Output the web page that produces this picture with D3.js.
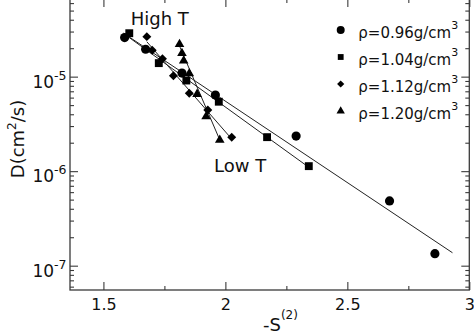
<!DOCTYPE html>
<html><head><meta charset="utf-8">
<script src="https://cdn.jsdelivr.net/npm/d3@7"></script>
<style>
body{margin:0;background:#fff}
svg{display:block}
text{font-family:"DejaVu Sans",sans-serif;fill:#111}
</style>
</head><body><svg id="c" width="474" height="336"></svg>
<script>
// ---- data ----
const xCircle   = [1.587, 1.673, 1.822, 1.959, 2.290, 2.673, 2.859];
const dCircle   = [2.59e-5, 1.95e-5, 1.09e-5, 6.4e-6, 2.35e-6, 4.84e-7, 1.34e-7];
const xSquare   = [1.606, 1.727, 1.840, 1.973, 2.171, 2.342];
const dSquare   = [2.88e-5, 1.39e-5, 9.1e-6, 5.43e-6, 2.29e-6, 1.13e-6];
const xDiamond  = [1.678, 1.700, 1.742, 1.787, 1.852, 1.928, 2.026];
const dDiamond  = [2.65e-5, 1.90e-5, 1.55e-5, 1.02e-5, 6.67e-6, 4.44e-6, 2.28e-6];
const xTriangle = [1.812, 1.822, 1.829, 1.852, 1.884, 1.921, 1.977];
const dTriangle = [2.20e-5, 1.77e-5, 1.47e-5, 1.08e-5, 6.53e-6, 3.78e-6, 2.14e-6];

// fit lines (end points)
const fitCircleX   = [1.582, 2.931];
const fitCircleD   = [2.89e-5, 1.37e-7];
const fitSquareX   = [1.605, 2.342];
const fitSquareD   = [2.60e-5, 1.10e-6];
const fitDiamondX  = [1.678, 2.026];
const fitDiamondD  = [2.34e-5, 2.19e-6];
const fitTriangleX = [1.812, 1.977];
const fitTriangleD = [2.11e-5, 2.14e-6];

const legendLabels = ["\u03c1=0.96g/cm", "\u03c1=1.04g/cm", "\u03c1=1.12g/cm", "\u03c1=1.20g/cm"];
const legendSup = "3";

const xMajorTicks = [1.5, 2, 2.5, 3];
const xTickLabels = ["1.5", "2", "2.5", "3"];
const xMinorTicks = [1.75, 2.25, 2.75];
const yMajorTicks = [1e-7, 1e-6, 1e-5];
const yTickExps   = ["-7", "-6", "-5"];
const yMinorTicks = [6e-8, 7e-8, 8e-8, 9e-8,
  2e-7, 3e-7, 4e-7, 5e-7, 6e-7, 7e-7, 8e-7, 9e-7,
  2e-6, 3e-6, 4e-6, 5e-6, 6e-6, 7e-6, 8e-6, 9e-6,
  2e-5, 3e-5, 4e-5, 5e-5, 6e-5];
const xDomain = [1.363, 3.0];
const yDomain = [5.53e-8, 6.63e-5];

// ---- layout ----
const L = 70, R = 469.3, T = -1, B = 290;
const svg = d3.select("#c");
const x = d3.scaleLinear().domain(xDomain).range([L, R]);
const y = d3.scaleLog().domain(yDomain).range([B, T]);
const axisColor = "#3a3a3a";

function styleAxis(g){
  g.select(".domain").remove();
  g.selectAll(".tick line").attr("stroke", axisColor).attr("stroke-width", 1.1);
}

// bottom major
const gB = svg.append("g").attr("transform", `translate(0,${B})`)
  .call(d3.axisBottom(x).tickValues(xMajorTicks).tickSize(-8).tickSizeOuter(0).tickPadding(9)
    .tickFormat((d,i) => xTickLabels[i]));
styleAxis(gB);
gB.selectAll("text").attr("font-size", 16).attr("font-family", '"DejaVu Sans",sans-serif').attr("fill", "#111");
svg.append("g").attr("transform", `translate(0,${B})`)
  .call(d3.axisBottom(x).tickValues(xMinorTicks).tickSize(-4).tickSizeOuter(0).tickFormat(""))
  .call(styleAxis);
// top
svg.append("g").attr("transform", `translate(0,${T})`)
  .call(d3.axisTop(x).tickValues(xMajorTicks).tickSize(-8).tickSizeOuter(0).tickFormat(""))
  .call(styleAxis);
svg.append("g").attr("transform", `translate(0,${T})`)
  .call(d3.axisTop(x).tickValues(xMinorTicks).tickSize(-4).tickSizeOuter(0).tickFormat(""))
  .call(styleAxis);
// left
const gL = svg.append("g").attr("transform", `translate(${L},0)`)
  .call(d3.axisLeft(y).tickValues(yMajorTicks).tickSize(-8).tickSizeOuter(0).tickPadding(3.5).tickFormat(""));
styleAxis(gL);
gL.selectAll(".tick text").each(function(d,i){
  const t = d3.select(this).attr("dy", null).attr("y", 10.6)
    .attr("font-size", 17).attr("font-family", '"DejaVu Sans",sans-serif').attr("fill", "#111")
    .attr("text-anchor", "end");
  t.text(null);
  t.append("tspan").text("10");
  t.append("tspan").attr("font-size", 12.5).attr("dy", -8).text(yTickExps[i]);
});
svg.append("g").attr("transform", `translate(${L},0)`)
  .call(d3.axisLeft(y).tickValues(yMinorTicks).tickSize(-4).tickSizeOuter(0).tickFormat(""))
  .call(styleAxis);
// right
svg.append("g").attr("transform", `translate(${R},0)`)
  .call(d3.axisRight(y).tickValues(yMajorTicks).tickSize(-8).tickSizeOuter(0).tickFormat(""))
  .call(styleAxis);
svg.append("g").attr("transform", `translate(${R},0)`)
  .call(d3.axisRight(y).tickValues(yMinorTicks).tickSize(-4).tickSizeOuter(0).tickFormat(""))
  .call(styleAxis);
// frame
svg.append("rect").attr("x", L).attr("y", T).attr("width", R - L).attr("height", B - T)
  .attr("fill", "none").attr("stroke", axisColor).attr("stroke-width", 1.3);

// ---- fit lines ----
const fits = [[fitCircleX, fitCircleD], [fitSquareX, fitSquareD], [fitDiamondX, fitDiamondD], [fitTriangleX, fitTriangleD]];
const line = d3.line().x(p => x(p[0])).y(p => y(p[1]));
fits.forEach(([xs, ds]) => {
  svg.append("path").attr("d", line(xs.map((v,i) => [v, ds[i]])))
    .attr("fill", "none").attr("stroke", "#222").attr("stroke-width", 1);
});

// ---- markers ----
const series = [
  {xs: xCircle, ds: dCircle, type: d3.symbolCircle, size: 66, rot: 0, lsize: 50},
  {xs: xSquare, ds: dSquare, type: d3.symbolSquare, size: 62, rot: 0, lsize: 34},
  {xs: xDiamond, ds: dDiamond, type: d3.symbolSquare, size: 40, rot: 45, lsize: 26},
  {xs: xTriangle, ds: dTriangle, type: d3.symbolTriangle, size: 40, rot: 0, lsize: 30}
];
series.forEach(s => {
  svg.append("g").selectAll("path").data(s.xs.map((v,i) => [v, s.ds[i]])).join("path")
    .attr("d", d3.symbol(s.type, s.size))
    .attr("transform", d => `translate(${x(d[0])},${y(d[1])}) rotate(${s.rot})`)
    .attr("fill", "#000");
});

// ---- legend ----
const lg = svg.append("g");
series.forEach((s, i) => {
  const cy = 30 + i * 27;
  lg.append("path").attr("d", d3.symbol(s.type, s.lsize))
    .attr("transform", `translate(340.7,${cy}) rotate(${s.rot})`).attr("fill", "#000");
  const t = lg.append("text").attr("x", 358.3).attr("y", cy + 7.5).attr("font-size", 15);
  t.append("tspan").text(legendLabels[i]);
  t.append("tspan").attr("font-size", 11).attr("dy", -9).text(legendSup);
});

// ---- annotations ----
svg.append("text").attr("x", 130.7).attr("y", 25).attr("font-size", 18).text("High T");
svg.append("text").attr("x", 214).attr("y", 171.7).attr("font-size", 18).text("Low T");

// ---- axis titles ----
const xt = svg.append("text").attr("x", 263).attr("y", 331).attr("font-size", 18);
xt.append("tspan").text("-S");
xt.append("tspan").attr("font-size", 12).attr("dy", -12).text("(2)");

const yt = svg.append("text").attr("transform", "translate(23.5,139) rotate(-90)")
  .attr("text-anchor", "middle").attr("font-size", 18);
yt.append("tspan").text("D(cm");
yt.append("tspan").attr("font-size", 12).attr("dy", -8).text("2");
yt.append("tspan").attr("dy", 8).text("/s)");
</script>
</body></html>
